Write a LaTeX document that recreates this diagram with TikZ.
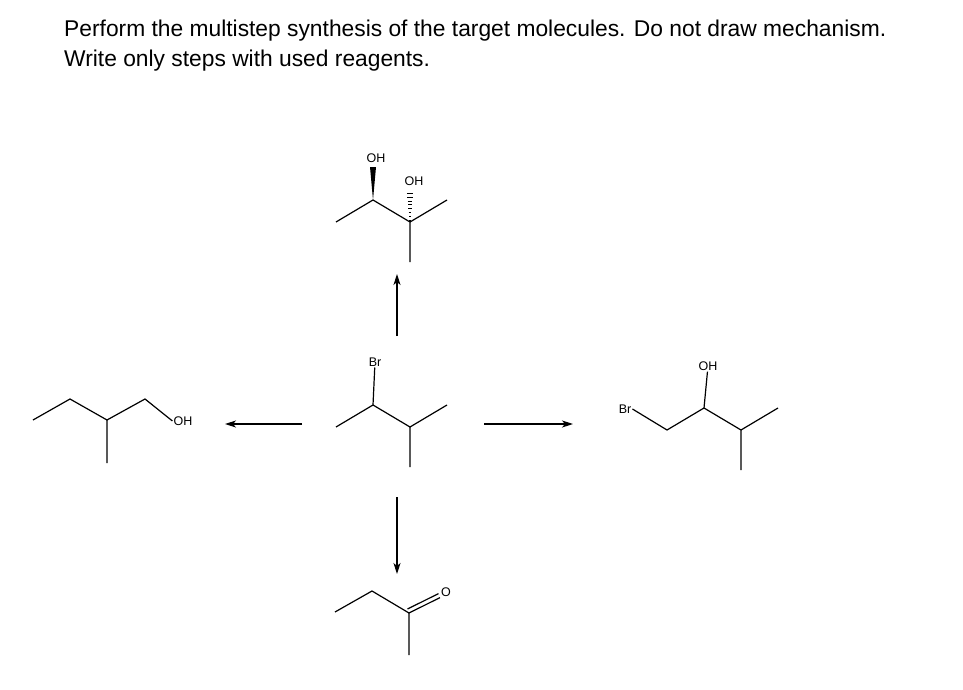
\documentclass[tikz,border=0pt]{standalone}
\usepackage{fontspec}
\usetikzlibrary{arrows.meta}
\setmainfont{Liberation Sans}
\begin{document}
\begin{tikzpicture}[x=1pt,y=-1pt,
  bond/.style={line width=1.2pt},
  lbl/.style={font=\fontsize{12.5}{14}\selectfont,inner sep=1pt},
  rx/.style={-{Stealth[length=11pt,width=7pt,inset=3pt]},line width=1.1pt},
  ttl/.style={font=\fontsize{22.8}{26}\selectfont,anchor=west,inner sep=0pt}]
\useasboundingbox (0,0) rectangle (963,690);
\node[ttl] (t1) at (64,31) {Perform the multistep synthesis of the target molecules. Do not draw mechanism.};
\node[ttl] (t2) at (64,61) {Write only steps with used reagents.};
% top diol
\coordinate (a1) at (336,222); \coordinate (a2) at (373,200); \coordinate (a3) at (410,222);
\coordinate (a4) at (447,200); \coordinate (a5) at (410,262);
\draw[bond] (a1)--(a2)--(a3)--(a4) (a3)--(a5);
\node[lbl] (oh1) at (376,158) {OH};
\fill (a2) -- (370,167) -- (376,167) -- cycle;
\node[lbl] (oh2) at (414,181) {OH};
\foreach \i in {0,...,7}{\pgfmathsetmacro\yy{220-\i*3.8}\pgfmathsetmacro\w{0.6+\i*0.35}
  \draw[line width=0.9pt] (410-\w,\yy)--(410+\w,\yy);}
% center bromide
\coordinate (b1) at (336,427); \coordinate (b2) at (373,405); \coordinate (b3) at (410,427);
\coordinate (b4) at (447,405); \coordinate (b5) at (410,467);
\node[lbl] (br) at (375,362) {Br};
\draw[bond] (b1)--(b2)--(b3)--(b4) (b3)--(b5) (b2)--(br);
% left alcohol
\coordinate (c1) at (33,420); \coordinate (c2) at (70,399); \coordinate (c3) at (107,420);
\coordinate (c4) at (145,399); \coordinate (c5) at (107,463);
\node[lbl] (oh3) at (183,421) {OH};
\draw[bond] (c1)--(c2)--(c3)--(c4)--(oh3.west) (c3)--(c5);
% right bromohydrin
\node[lbl] (br2) at (625,409) {Br};
\coordinate (d1) at (667,430); \coordinate (d2) at (704,408); \coordinate (d3) at (741,430);
\coordinate (d4) at (778,408); \coordinate (d5) at (741,470);
\node[lbl] (oh4) at (708,366) {OH};
\draw[bond] (br2.east)--(d1)--(d2)--(d3)--(d4) (d3)--(d5) (d2)--(oh4);
% bottom ketone
\coordinate (e1) at (335,612); \coordinate (e2) at (372,591); \coordinate (e3) at (409,613);
\coordinate (e4) at (409,655);
\node[lbl] (o) at (446,592) {O};
\draw[bond] (e1)--(e2)--(e3)--(e4) (e3)--(o.south west);
\draw[bond] ([shift={(-1.5,-4)}]e3) -- ([shift={(-1.5,-4)}]o.south west);
% arrows
\coordinate (p1) at (302,424); \coordinate (p2) at (225,424);
\coordinate (q1) at (484,424); \coordinate (q2) at (573,424);
\coordinate (r1) at (397,336); \coordinate (r2) at (397,274);
\coordinate (s1) at (397,497); \coordinate (s2) at (397,574);
\draw[rx] (p1)--(p2); \draw[rx] (q1)--(q2); \draw[rx] (r1)--(r2); \draw[rx] (s1)--(s2);
\end{tikzpicture}
\end{document}
